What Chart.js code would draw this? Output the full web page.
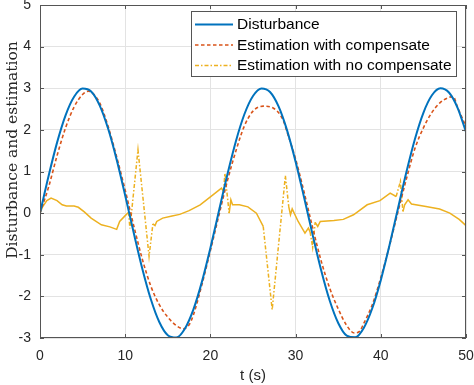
<!DOCTYPE html>
<html>
<head>
<meta charset="utf-8">
<script src="https://cdn.jsdelivr.net/npm/chart.js@4/dist/chart.umd.min.js"></script>
<style>
html,body{margin:0;padding:0;background:#fff;}
#wrap{width:474px;height:385px;position:relative;}
</style>
</head>
<body>
<div id="wrap"><canvas id="c" width="474" height="385"></canvas></div>
<script>
// ---- data ----
const xTicks = [0, 10, 20, 30, 40, 50];
const yTicks = [-3, -2, -1, 0, 1, 2, 3, 4, 5];
const seriesNames = ['Disturbance', 'Estimation with compensate', 'Estimation with no compensate'];
const xTitle = 't (s)';
const yTitle = 'Disturbance and estimation';

const distT = [0,1,2,3,4,5,6,7,8,9,10,11,12,13,14,15,16,17,18,19,20,21,22,23,24,25,26,27,28,29,30,31,32,33,34,35,36,37,38,39,40,41,42,43,44,45,46,47,48,49,50];
const distY = [0,0.887,1.694,2.35,2.796,2.992,2.921,2.59,2.026,1.282,0.423,-0.473,-1.328,-2.063,-2.615,-2.933,-2.989,-2.777,-2.318,-1.652,-0.838,0.05,0.935,1.735,2.381,2.814,2.996,2.91,2.564,1.989,1.236,0.374,-0.523,-1.373,-2.1,-2.639,-2.943,-2.984,-2.758,-2.286,-1.61,-0.79,0.101,0.983,1.776,2.411,2.831,2.998,2.897,2.537,1.951];

const compT = [0,1,2,3,4,5,5.7,6,7,8,9,10,11,12,13,14,15,16,16.8,17.5,18,19,20,21,22,23,24,25,26.2,27.4,28.2,28.6,29,30,31,32,33,34,35,36,36.9,37.5,38,39,40,41,42,43,44,45,46,47,48,48.5,49,50];
const compY = [0,0.62,1.38,2.05,2.55,2.85,2.93,2.91,2.65,2.08,1.35,0.55,-0.3,-1.1,-1.75,-2.2,-2.5,-2.7,-2.78,-2.68,-2.45,-1.72,-0.9,-0.05,0.78,1.5,2.1,2.45,2.57,2.52,2.36,2.2,1.95,1.3,0.5,-0.35,-1.15,-1.8,-2.3,-2.7,-2.88,-2.84,-2.65,-2.2,-1.55,-0.8,0.02,0.82,1.55,2.05,2.42,2.66,2.78,2.8,2.55,2.08];

const noCompT = [0,0.3,0.8,1.3,2.0,2.6,3.1,4.0,4.5,5.2,6.0,7.2,8.2,9.0,9.35,10.0,10.4,10.55,11.5,12.8,13.25,13.5,13.7,14.4,15.5,16.4,17.5,18.8,20.3,21.3,21.55,21.7,22.2,22.4,22.6,23.4,24.4,25.4,26.2,27.25,28.8,29.2,29.4,29.6,30.3,31.1,31.5,31.7,32.0,32.3,32.6,32.9,34.5,35.6,36.8,38.4,39.9,41.1,41.8,42.3,42.6,42.8,43.2,43.6,45.3,46.9,48.1,49.2,50];
const noCompY = [0,0.15,0.3,0.36,0.3,0.2,0.17,0.17,0.14,0.03,-0.12,-0.28,-0.33,-0.39,-0.2,-0.06,0.02,-0.37,1.52,-1.04,-0.26,-0.3,-0.2,-0.12,-0.07,-0.03,0.06,0.2,0.44,0.6,0.52,0.96,0.0,0.32,0.2,0.2,0.15,0.0,-0.32,-2.32,0.9,0.15,-0.04,0.1,-0.2,-0.48,-0.36,-0.45,-0.82,-0.22,-0.32,-0.2,-0.18,-0.15,-0.04,0.2,0.3,0.48,0.4,0.76,0.04,0.2,0.32,0.22,0.16,0.1,0.0,-0.15,-0.3];

// ---- styles ----
const BLUE = '#0072BD', RED = '#D95319', YEL = '#EDB120';
const AXC = '#262626';

const toPts = (t, y) => t.map((v, i) => ({x: v, y: y[i]}));

const YDASH = [4, 2, 1.5, 2];
const RDASH = [3.5, 2.5];

const frameLegendPlugin = {
  id: 'frameLegend',
  afterDatasetsDraw(chart) {
    const ctx = chart.ctx, a = chart.chartArea;
    const xs = chart.scales.x, ys = chart.scales.y;
    ctx.save();
    // frame
    ctx.strokeStyle = '#555';
    ctx.lineWidth = 1;
    ctx.strokeRect(Math.round(a.left) + 0.5, Math.round(a.top) + 0.5, Math.round(a.right - a.left) - 1, Math.round(a.bottom - a.top) - 1);
    // inward ticks
    const tl = 4;
    ctx.beginPath();
    xTicks.forEach(v => {
      const px = Math.round(xs.getPixelForValue(v)) + 0.5;
      ctx.moveTo(px, a.bottom); ctx.lineTo(px, a.bottom - tl);
      ctx.moveTo(px, a.top); ctx.lineTo(px, a.top + tl);
    });
    yTicks.forEach(v => {
      const py = Math.round(ys.getPixelForValue(v)) + 0.5;
      ctx.moveTo(a.left, py); ctx.lineTo(a.left + tl, py);
      ctx.moveTo(a.right, py); ctx.lineTo(a.right - tl, py);
    });
    ctx.stroke();

    // axis titles
    ctx.fillStyle = AXC;
    ctx.font = '15px "Liberation Sans", Arial, sans-serif';
    ctx.textAlign = 'center';
    ctx.textBaseline = 'middle';
    ctx.fillText(xTitle, 253, 376);
    ctx.save();
    ctx.translate(13, 150);
    ctx.rotate(-Math.PI / 2);
    ctx.font = '15.5px "DejaVu Serif", serif';
    ctx.fillText(yTitle, 0, 0);
    ctx.restore();

    // legend
    const lx = 191.5, ly = 11.5, lw = 265, lh = 65;
    ctx.fillStyle = '#fff';
    ctx.fillRect(lx, ly, lw, lh);
    ctx.strokeStyle = '#555';
    ctx.lineWidth = 1;
    ctx.strokeRect(lx, ly, lw, lh);
    const rows = [24.5, 45, 65.5];
    chart.data.datasets.forEach((ds, i) => {
      ctx.save();
      ctx.strokeStyle = ds.borderColor;
      ctx.lineWidth = ds.borderWidth;
      ctx.setLineDash(ds.legendDash || []);
      ctx.beginPath();
      ctx.moveTo(195, rows[i]);
      ctx.lineTo(233, rows[i]);
      ctx.stroke();
      ctx.restore();
      ctx.fillStyle = '#000';
      ctx.font = '15.5px "Liberation Sans", Arial, sans-serif';
      ctx.textAlign = 'left';
      ctx.textBaseline = 'middle';
      ctx.fillText(ds.label, 237, rows[i] + 0.5);
    });
    ctx.restore();
  }
};

new Chart(document.getElementById('c'), {
  type: 'line',
  data: {
    datasets: [
      {
        label: seriesNames[0],
        data: toPts(distT, distY),
        borderColor: BLUE, borderWidth: 2,
        pointRadius: 0, fill: false,
        cubicInterpolationMode: 'monotone',
        legendDash: []
      },
      {
        label: seriesNames[1],
        data: toPts(compT, compY),
        borderColor: RED, borderWidth: 1.6,
        borderDash: RDASH,
        pointRadius: 0, fill: false,
        cubicInterpolationMode: 'monotone',
        legendDash: RDASH
      },
      {
        label: seriesNames[2],
        data: toPts(noCompT, noCompY),
        borderColor: YEL, borderWidth: 1.5,
        pointRadius: 0, fill: false, tension: 0,
        segment: {
          borderDash: c => Math.abs(c.p1.y - c.p0.y) > 14 ? YDASH : []
        },
        legendDash: YDASH
      }
    ]
  },
  options: {
    responsive: false,
    animation: false,
    events: [],
    layout: {autoPadding: false, padding: {top: 5, right: 8, left: 0, bottom: 0}},
    plugins: {legend: {display: false}, tooltip: {enabled: false}, title: {display: false}},
    scales: {
      x: {
        type: 'linear', min: 0, max: 50,
        afterBuildTicks: s => { s.ticks = xTicks.map(v => ({value: v})); },
        afterFit: s => { s.height = 47; s.paddingLeft = 0; s.paddingRight = 0; },
        grid: {color: '#e3e3e3', lineWidth: 1, drawTicks: false},
        border: {display: false},
        ticks: {color: AXC, font: {family: '"Liberation Sans", Arial, sans-serif', size: 14}, padding: 10, maxRotation: 0}
      },
      y: {
        type: 'linear', min: -3, max: 5,
        afterBuildTicks: s => { s.ticks = yTicks.map(v => ({value: v})); },
        afterFit: s => { s.width = 40; s.paddingTop = 0; s.paddingBottom = 0; },
        grid: {color: '#e3e3e3', lineWidth: 1, drawTicks: false},
        border: {display: false},
        ticks: {color: AXC, font: {family: '"Liberation Sans", Arial, sans-serif', size: 14}, padding: 9}
      }
    }
  },
  plugins: [frameLegendPlugin]
});
</script>
</body>
</html>
